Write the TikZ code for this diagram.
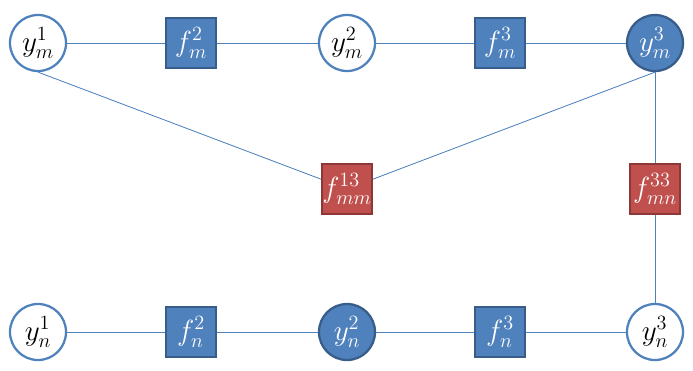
\documentclass[tikz,border=0pt]{standalone}
\usepackage{amsmath,amssymb}
\usepackage{tikz}
\usetikzlibrary{arrows.meta,positioning}
\usepackage{xcolor}
\definecolor{varblue}{HTML}{4F81BD}
\definecolor{varedge}{HTML}{385D8A}
\definecolor{linkred}{HTML}{C0504D}
\definecolor{linkedge}{HTML}{8C3836}

\begin{document}
\begin{tikzpicture}[x=0.025cm, y=-0.025cm,
  var/.style={circle, draw=varblue, line width=1.6pt, fill=white, minimum size=1.4cm, inner sep=0pt, font=\huge},
  obs/.style={var, draw=varedge, fill=varblue, text=white},
  fac/.style={rectangle, draw=varedge, line width=1.2pt, fill=varblue, text=white, minimum size=1.25cm, inner sep=0pt, font=\huge},
  cross/.style={fac, draw=linkedge, fill=linkred},
  link/.style={draw=varblue, line width=0.6pt}]
  \useasboundingbox (0,0) rectangle (693,370);

  \node[var] (ym1) at (38,43) {$y_m^1$};
  \node[fac] (fm2) at (191,43) {$f_m^2$};
  \node[var] (ym2) at (347,43) {$y_m^2$};
  \node[fac] (fm3) at (500,43) {$f_m^3$};
  \node[obs] (ym3) at (655,43) {$y_m^3$};

  \node[cross] (fmm13) at (347,189) {$f_{mm}^{13}$};
  \node[cross] (fmn33) at (655,189) {$f_{mn}^{33}$};

  \node[var] (yn1) at (38,332) {$y_n^1$};
  \node[fac] (fn2) at (191,332) {$f_n^2$};
  \node[obs] (yn2) at (347,332) {$y_n^2$};
  \node[fac] (fn3) at (500,332) {$f_n^3$};
  \node[var] (yn3) at (655,332) {$y_n^3$};

  \path[link] (ym1) -- (fm2) -- (ym2) -- (fm3) -- (ym3);
  \path[link] (yn1) -- (fn2) -- (yn2) -- (fn3) -- (yn3);
  \path[link] (ym1.south) -- (fmm13) -- (ym3.south);
  \path[link] (ym3) -- (fmn33) -- (yn3);
\end{tikzpicture}
\end{document}
